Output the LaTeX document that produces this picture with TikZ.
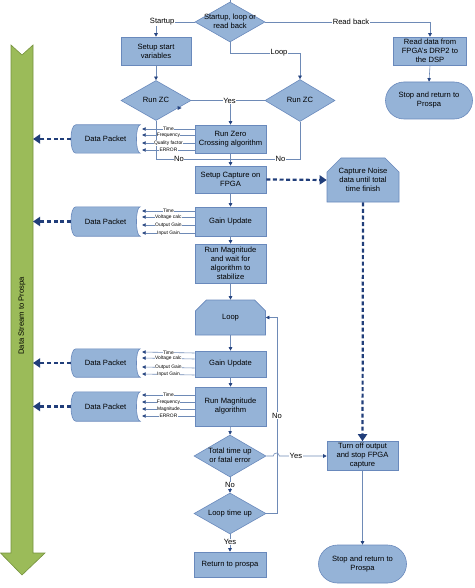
\documentclass[tikz,border=0pt]{standalone}
\usepackage{fontspec}
\setmainfont{Liberation Sans}
\usetikzlibrary{shapes.geometric,shapes.misc,arrows.meta}
\definecolor{boxfill}{RGB}{149,179,215}
\definecolor{boxdraw}{RGB}{105,137,188}
\definecolor{linec}{RGB}{110,138,182}
\definecolor{tipc}{RGB}{38,68,128}
\definecolor{dashc}{RGB}{33,62,122}
\definecolor{greenf}{RGB}{155,187,89}
\definecolor{greend}{RGB}{118,146,62}
\pgfdeclarelayer{bg}
\pgfsetlayers{bg,main}
\newcommand{\dtxt}[1]{\makebox[0pt]{\raisebox{-2pt}[0pt][0pt]{\begin{tabular}[c]{@{}c@{}}#1\end{tabular}}}}
\newcommand{\dpshape}[1]{%
  \begin{pgfonlayer}{bg}
  \filldraw[fill=boxfill,draw=boxdraw,line width=0.6pt]
    ([xshift=5pt]#1.north west) -- (#1.north east)
    .. controls ([xshift=-5pt]#1.north east) and ([xshift=-5pt]#1.south east) .. (#1.south east)
    -- ([xshift=5pt]#1.south west)
    .. controls ([xshift=-1.5pt]#1.south west) and ([xshift=-1.5pt]#1.north west) .. cycle;
  \end{pgfonlayer}}
\begin{document}
\begin{tikzpicture}[x=1pt,y=-1pt,
  txt/.style={font=\fontsize{7.6}{9}\selectfont},
  box/.style={rectangle,draw=boxdraw,fill=boxfill,line width=0.6pt,align=center,inner sep=0.5pt,txt},
  dia/.style={diamond,draw=boxdraw,fill=boxfill,line width=0.6pt,inner sep=0pt,txt},
  term/.style={rounded rectangle,draw=boxdraw,fill=boxfill,line width=0.6pt,align=center,inner sep=0.5pt,txt},
  chamf/.style={chamfered rectangle,chamfered rectangle corners={north west,north east},
     chamfered rectangle xsep=7pt,chamfered rectangle ysep=7pt,
     draw=boxdraw,fill=boxfill,line width=0.6pt,align=center,inner sep=0.5pt,txt},
  dpk/.style={rectangle,minimum width=69pt,inner sep=0pt,txt},
  line/.style={draw=linec,line width=0.6pt},
  arr/.style={line,-{Triangle[length=3.5pt,width=3.5pt,color=tipc]}},
  bigdash/.style={draw=dashc,line width=2.2pt,dash pattern=on 4pt off 2.6pt,-{Triangle[length=7pt,width=9pt,color=dashc]}},
  lbl/.style={fill=white,inner sep=0.5pt,font=\fontsize{7.6}{9}\selectfont},
  slbl/.style={fill=white,inner sep=0.3pt,font=\fontsize{4.9}{5}\selectfont},
  gtext/.style={rotate=90,font=\fontsize{7.6}{9}\selectfont}
]
\useasboundingbox (0,0) rectangle (474,588);

% green data stream arrow
\filldraw[fill=greenf,draw=greend,line width=0.6pt]
  (11,45) -- (22,55) -- (33,45) -- (33,553) -- (45,553) -- (22,575) -- (0.5,553) -- (11,553) -- cycle;
\node[gtext] (gt) at (22,316) {Data Stream to Prospa};

% nodes
\node[dia,minimum width=70pt,minimum height=40pt] (d0) at (230,22) {\dtxt{Startup, loop or\\read back}};
\node[box,minimum width=70pt,minimum height=28pt] (setup) at (156,51) {Setup start\\variables};
\node[box,minimum width=73pt,minimum height=28pt] (read) at (430,51) {Read data from\\FPGA's DRP2 to\\the DSP};
\node[term,minimum width=88pt,minimum height=37pt] (stop1) at (429,100.5) {Stop and return to\\Prospa};
\node[dia,minimum width=70pt,minimum height=40pt] (zcL) at (156,100.5) {\dtxt{Run ZC}};
\node[dia,minimum width=70pt,minimum height=42pt] (zcR) at (300,100.5) {\dtxt{Run ZC}};
\node[box,minimum width=71pt,minimum height=28pt] (rzc) at (230.5,139) {Run Zero\\Crossing algorithm};
\node[box,minimum width=71pt,minimum height=27pt] (cap) at (230.5,179.5) {Setup Capture on\\FPGA};
\node[chamf,minimum width=72pt,minimum height=44pt] (noise) at (363,180) {Capture Noise\\data until total\\time finish};
\node[box,minimum width=71pt,minimum height=29pt] (gain1) at (230.5,221.5) {Gain Update};
\node[box,minimum width=71pt,minimum height=39pt] (mag1) at (230.5,263.5) {Run Magnitude\\and wait for\\algorithm to\\stabilize};
\node[chamf,minimum width=70pt,minimum height=35pt] (loop) at (230.5,317.5) {Loop};
\node[box,minimum width=71pt,minimum height=26pt] (gain2) at (230.5,364) {Gain Update};
\node[box,minimum width=71pt,minimum height=39pt] (mag2) at (230.5,406.5) {Run Magnitude\\algorithm};
\node[dia,minimum width=72pt,minimum height=42pt] (tt) at (230,456) {\dtxt{Total time up\\or fatal error}};
\node[dia,minimum width=72pt,minimum height=41pt] (lt) at (230,513.5) {\dtxt{Loop time up}};
\node[box,minimum width=72pt,minimum height=25pt] (ret) at (230,564.5) {Return to prospa};
\node[box,minimum width=71pt,minimum height=29pt] (off) at (362.5,456) {Turn off output\\and stop FPGA\\capture};
\node[term,minimum width=89pt,minimum height=38pt] (stop2) at (362.5,564) {Stop and return to\\Prospa};

% data packets
\node[dpk,minimum height=28pt] (dp1) at (105.5,139) {Data Packet};
\node[dpk,minimum height=29pt] (dp2) at (105.5,221.5) {Data Packet};
\node[dpk,minimum height=28pt] (dp3) at (105.5,363) {Data Packet};
\node[dpk,minimum height=29pt] (dp4) at (105.5,406.5) {Data Packet};
\dpshape{dp1}\dpshape{dp2}\dpshape{dp3}\dpshape{dp4}

\coordinate (g1) at (33,139);
\coordinate (g2) at (33,221.5);
\coordinate (g3) at (33,363);
\coordinate (g4) at (33,406.5);
\draw[bigdash] (dp1.west) -- (g1);
\draw[bigdash] (dp2.west) -- (g2);
\draw[bigdash] (dp3.west) -- (g3);
\draw[bigdash] (dp4.west) -- (g4);

% top connectors
\coordinate (top) at (230,0);
\draw[line] (top) -- (d0.north);
\draw[arr] (d0.west) -| node[lbl,pos=0.42]{Startup} (setup.north);
\draw[arr] (d0.east) -| node[lbl,pos=0.26]{Read back} (read.north);
\coordinate (lp) at (230,53);
\draw[arr] (d0.south) -- (lp) -| node[lbl,pos=0.35]{Loop} (zcR.north);
\draw[arr] (setup.south) -- (zcL.north);
\draw[arr] (read.south) -- (stop1.north);
\coordinate (m0) at (230.5,100.5);
\draw[arr] (m0) -- (rzc.north);
\draw[line] (zcL.east) -- node[lbl,pos=0.52]{Yes} (zcR.west);
\fill[tipc] (177.5,106) -- (181.5,108) -- (177.5,110) -- cycle;
\coordinate (m1) at (230.5,159);
\draw[line] (zcL.south) |- node[lbl,pos=0.655]{No} (m1);
\draw[line] (zcR.south) |- node[lbl,pos=0.64]{No} (m1);

% data packet feeds
\foreach \dy/\t in {10/Time,4/Frequency,-4/Quality factor,-11/ERROR}
  \draw[arr] ([yshift=\dy pt]rzc.west) -- node[slbl]{\t} ([yshift=\dy pt,xshift=2pt]dp1.east);
\foreach \dy/\t in {10.5/Time,4.5/Voltage calc,-3.5/Output Gain,-11.5/Input Gain}
  \draw[arr] ([yshift=\dy pt]gain1.west) -- node[slbl]{\t} ([yshift=\dy pt,xshift=2pt]dp2.east);
\foreach \dy/\t in {11/Time,5/Voltage calc,-4/Output Gain,-11/Input Gain}
  \draw[arr] ([yshift=\dy pt]gain2.west) -- node[slbl]{\t} ([yshift=\dy pt,xshift=2pt]dp3.east);
\foreach \dy/\t in {11.5/Time,4.5/Frequency,-2.5/Magnitude,-9.5/ERROR}
  \draw[arr] ([yshift=\dy pt]mag2.west) -- node[slbl]{\t} ([yshift=\dy pt,xshift=2pt]dp4.east);

% main chain
\draw[arr] (rzc.south) -- (cap.north);
\draw[bigdash] (cap.east) -- (noise.west);
\draw[bigdash] (noise.south) -- (off.north);
\draw[arr] (cap.south) -- (gain1.north);
\draw[arr] (gain1.south) -- (mag1.north);
\draw[arr] (mag1.south) -- (loop.north);
\draw[arr] (loop.south) -- (gain2.north);
\draw[arr] (gain2.south) -- (mag2.north);
\draw[arr] (mag2.south) -- (tt.north);
\draw[arr] (tt.south) -- node[lbl]{No} (lt.north);
\draw[arr] (lt.south) -- node[lbl,pos=0.45]{Yes} (ret.north);
\draw[arr] (tt.east) -- ++(7,0) arc[start angle=180,end angle=0,radius=3pt] -- node[lbl,pos=0.35]{Yes} (off.west);
\coordinate (r1) at (277,513.5);
\coordinate (r2) at (277,317.5);
\draw[arr] (lt.east) -- (r1) -- node[lbl]{No} (r2) -- (loop.east);
\draw[arr] (off.south) -- (stop2.north);
\end{tikzpicture}
\end{document}
